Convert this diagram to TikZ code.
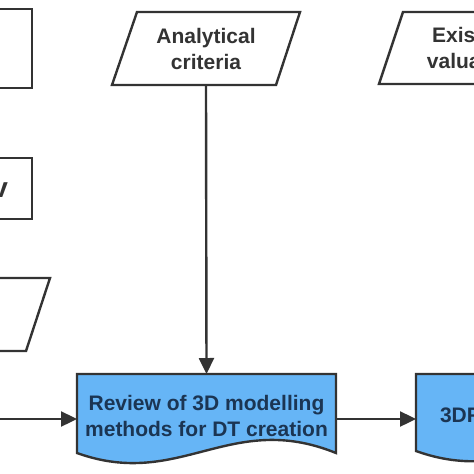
\documentclass[tikz,border=0pt]{standalone}
\usepackage{fontspec}
\setmainfont{Liberation Sans}
\usetikzlibrary{arrows.meta}
\definecolor{edgec}{HTML}{333333}
\definecolor{bluefill}{HTML}{66B5F6}
\definecolor{navytext}{HTML}{1B3553}
\tikzset{
  outline/.style={draw=edgec, line width=2.4pt, line join=miter},
  docshape/.style={outline, fill=bluefill},
  box/.style={inner sep=0pt, outer sep=0pt, align=center, font=\fontsize{21}{26}\selectfont\bfseries, text=edgec},
  doctext/.style={box, text=navytext},
  arr/.style={draw=edgec, line width=2.4pt, -{Triangle[length=16pt,width=15pt]}},
}
\begin{document}
\begin{tikzpicture}[x=1pt,y=-1pt]
\fill[white] (0,0) rectangle (474,474);
\useasboundingbox (0,0) rectangle (474,474);

% left column (cut off)
\node[box, outline, minimum width=100pt, minimum height=79pt] (b1) at (-18,48.5) {};
\node[box, outline, minimum width=100pt, minimum height=61pt] (b2) at (-18,188.5) {};
\node[box, anchor=east, font=\fontsize{28}{30}\selectfont\bfseries] (b2t) at (8,190) {v};
\node[box, minimum width=240pt, minimum height=73pt] (p3) at (-70,314.5) {};
\draw[outline] ([xshift=24pt]p3.north west) -- (p3.north east) -- ([xshift=-24pt]p3.south east) -- (p3.south west) -- cycle;

% Analytical criteria
\node[box, minimum width=188pt, minimum height=73pt] (ac) at (206,48.5) {Analytical\\criteria};
\draw[outline] ([xshift=25pt]ac.north west) -- (ac.north east) -- ([xshift=-24pt]ac.south east) -- (ac.south west) -- cycle;

% Existing valuation (cut off)
\node[box, minimum width=188pt, minimum height=72pt] (ev) at (473,48) {Existing\\valuation};
\draw[outline] ([xshift=24pt]ev.north west) -- (ev.north east) -- ([xshift=-24pt]ev.south east) -- (ev.south west) -- cycle;

% Review document
\node[doctext, minimum width=259pt, minimum height=79pt] (rev) at (206.5,413.5) {};
\draw[docshape] (rev.south west) -- (rev.north west) -- (rev.north east) -- (rev.south east)
  .. controls (230,410) and (180,490) .. (rev.south west) -- cycle;
\node[doctext] (revt) at (206.5,416) {Review of 3D modelling\\methods for DT creation};

% 3DF document (cut off)
\node[doctext, minimum width=259pt, minimum height=77pt] (d2) at (545.5,412.5) {};
\draw[docshape] (d2.south west) -- (d2.north west) -- (d2.north east) -- (d2.south east)
  .. controls (569,410) and (519,488) .. (d2.south west) -- cycle;
\node[doctext, anchor=west] (d2t) at (440,415) {3DF};

% connectors
\coordinate (lin) at (-10,419);
\draw[arr] (ac.south) -- (rev.north);
\draw[arr] (lin) -- (lin -| rev.west);
\draw[arr] ([yshift=-5.5pt]rev.east) -- ([yshift=-5.5pt]rev.east -| d2.west);
\end{tikzpicture}
\end{document}
